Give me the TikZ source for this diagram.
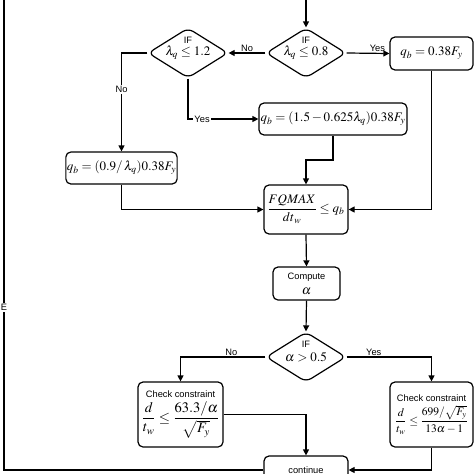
\documentclass[tikz,border=0pt]{standalone}
\usepackage{amsmath}
\usepackage[no-math]{fontspec}
\setsansfont{Liberation Sans}
\usepackage{mathptmx}
\usetikzlibrary{shapes.geometric,arrows.meta,calc}
\newcommand{\mfnt}{\fontsize{13}{15}\selectfont}
\newcommand{\sfnt}{\sffamily\fontsize{9.3}{11}\selectfont}
\begin{document}
\begin{tikzpicture}[x=1pt,y=-1pt,
  box/.style={draw, rounded corners=5pt, line width=1.2pt, inner sep=1pt, align=center, font=\mfnt},
  dia/.style={draw, diamond, aspect=1.6, rounded corners=6pt, line width=1.2pt, inner sep=0pt,
    minimum width=80pt, minimum height=50pt, align=center, font=\mfnt},
  ln/.style={line width=1.2pt},
  arr/.style={line width=1.2pt, -{Triangle[length=6pt,width=6pt]}},
  lbl/.style={font=\sfnt, inner sep=1pt}]
\useasboundingbox (0,0) rectangle (474,474);
\clip (0,0) rectangle (474,474);

\coordinate (top) at (306,0);
\node[dia] (d1) at (306,53) {\raisebox{-5pt}{$\lambda_q\le 0.8$}};
\node[lbl, inner sep=0pt] (d1if) at (306,40) {IF};
\node[dia] (d2) at (188,53) {\raisebox{-5pt}{$\lambda_q\le 1.2$}};
\node[lbl, inner sep=0pt] (d2if) at (188,40) {IF};
\node[box, minimum width=83pt, minimum height=33pt] (q1) at (431.5,53.5) {$q_b=0.38F_y$};
\node[box, minimum width=148pt, minimum height=32pt] (q2) at (333,119) {$q_b=(1.5-0.625\lambda_q)0.38F_y$};
\node[box, minimum width=111pt, minimum height=32pt] (q3) at (121.5,168) {$q_b=(0.9/\,\lambda_q)0.38F_y$};
\node[box, minimum width=84pt, minimum height=49pt] (q4) at (306,209.5) {$\dfrac{FQMAX}{dt_{\,w}}\le q_b$};
\node[box, minimum width=67pt, minimum height=33pt] (c1) at (306.5,283.5) {{\sfnt Compute}\\[0pt]$\alpha$};
\node[dia] (d3) at (306,357) {\raisebox{-5pt}{$\alpha>0.5$}};
\node[lbl, inner sep=0pt] (d3if) at (306,344) {IF};
\node[box, minimum width=85pt, minimum height=65pt] (k1) at (180.5,414.5)
  {{\sfnt Check constraint}\\[3pt]{\fontsize{14.5}{16}\selectfont$\dfrac{d}{t_w}\le\dfrac{63.3/\alpha}{\sqrt{F_y}}$}};
\node[box, minimum width=83pt, minimum height=65pt] (k2) at (431.5,414.5)
  {{\sfnt Check constraint}\\[3pt]{\fontsize{11.5}{13}\selectfont$\dfrac{d}{t_w}\le\dfrac{699/\sqrt{F_y}}{13\alpha-1}$}};
\node[box, minimum width=84pt, minimum height=28pt] (cont) at (306,470) {\sfnt continue};
\coordinate (loopTop) at (4,0);

\draw[arr] (top) -- (d1.north);
\draw[arr] (d1.west) -- node[lbl, above] {No} (d2.east);
\draw[arr] (d1.east) -- node[lbl, above, pos=0.72] {Yes} (q1.west);
\draw[arr] (d2.west) -| node[lbl, fill=white, pos=0.685] {No} (q3.north);
\draw[arr] (d2.south) |- node[lbl, fill=white, pos=0.6] {Yes} (q2.west);
\draw[arr] (q2.south) -- (q2.south |- 0,160) -| (q4.north);
\draw[arr] (q1.south) |- (q4.east);
\draw[arr] (q3.south) |- (q4.west);
\draw[arr] (q4.south) -- (c1.north);
\draw[arr] (c1.south) -- (d3.north);
\draw[arr] (d3.west) -| node[lbl, above, pos=0.2] {No} (k1.north);
\draw[arr] (d3.east) -| node[lbl, above, pos=0.16] {Yes} (k2.north);
\draw[arr] (k1.east) -| (cont.north);
\draw[arr] (k2.south) |- (cont.east);
\draw[ln] (cont.west) -| node[lbl, fill=white, pos=0.673] {E} (loopTop);
\end{tikzpicture}
\end{document}
